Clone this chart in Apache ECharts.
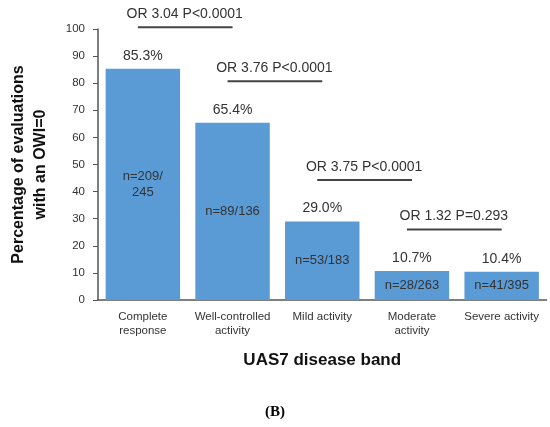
<!DOCTYPE html>
<html>
<head>
<meta charset="utf-8">
<script src="https://cdn.jsdelivr.net/npm/echarts@6/dist/echarts.min.js"></script>
<style>
  html, body { margin: 0; padding: 0; background: #fff; }
  #chart { width: 550px; height: 427px; }
</style>
</head>
<body>
<div id="chart"></div>
<script>
// UAS7 disease bands and the share of evaluations with OWI=0
var categories = ['Complete\nresponse', 'Well-controlled\nactivity', 'Mild activity', 'Moderate\nactivity', 'Severe activity'];
var percents = [85.3, 65.4, 29.0, 10.7, 10.4];
var counts = ['n=209/\n245', 'n=89/136', 'n=53/183', 'n=28/263', 'n=41/395'];
// comparisons between neighbouring bands
var comparisons = ['OR 3.04 P<0.0001', 'OR 3.76 P<0.0001', 'OR 3.75 P<0.0001', 'OR 1.32 P=0.293'];
var yTicks = [0, 10, 20, 30, 40, 50, 60, 70, 80, 90, 100];

var chart = echarts.init(document.getElementById('chart'));

var option = {
    animation: false,
    textStyle: { fontFamily: 'Liberation Sans, Arial, sans-serif' },
    title: {
        text: '(B)',
        left: 'center',
        bottom: 2,
        textStyle: { fontFamily: 'Liberation Serif, Times New Roman, serif', fontSize: 15, fontWeight: 'bold', color: '#000' }
    },
    grid: { left: 94, right: 3.5, top: 29, bottom: 127 },
    xAxis: {
        type: 'category',
        data: categories,
        name: 'UAS7 disease band',
        nameLocation: 'middle',
        nameGap: 52,
        nameTextStyle: { fontSize: 17, fontWeight: 'bold', color: '#111' },
        axisLine: { lineStyle: { color: '#555', width: 1.5 } },
        axisTick: { show: false },
        axisLabel: { interval: 0, color: '#333', fontSize: 11.5, lineHeight: 14, margin: 10 }
    },
    yAxis: {
        type: 'value',
        min: yTicks[0],
        max: yTicks[yTicks.length - 1],
        interval: 10,
        name: 'Percentage of evaluations\nwith an OWI=0',
        nameLocation: 'middle',
        nameGap: 46,
        nameTextStyle: { fontSize: 16, fontWeight: 'bold', color: '#111', lineHeight: 22 },
        axisLine: { show: true, lineStyle: { color: '#555', width: 1.5 } },
        axisTick: { show: true, length: 5, lineStyle: { color: '#555' } },
        axisLabel: { color: '#333', fontSize: 11.5, margin: 13 },
        splitLine: { show: false }
    },
    series: [
        {
            type: 'bar',
            data: percents,
            barCategoryGap: '17%',
            itemStyle: { color: '#5b9bd5' },
            label: {
                show: true,
                position: 'top',
                distance: 6,
                fontSize: 14,
                color: '#333',
                formatter: function (p) { return p.value.toFixed(1) + '%'; }
            },
            z: 2
        },
        {
            type: 'bar',
            data: percents,
            barGap: '-100%',
            barCategoryGap: '17%',
            itemStyle: { color: 'rgba(0,0,0,0)' },
            label: {
                show: true,
                position: 'inside',
                fontSize: 13,
                lineHeight: 16,
                color: '#333',
                formatter: function (p) { return counts[p.dataIndex]; }
            },
            silent: true,
            z: 3
        }
    ]
};

chart.setOption(option);

// brackets between neighbouring bars, placed through the chart's own scales
var graphics = [];
comparisons.forEach(function (txt, i) {
    var lvl = Math.max(percents[i], percents[i + 1]) + 15.3;
    var a = chart.convertToPixel({ gridIndex: 0 }, [i, lvl]);
    var b = chart.convertToPixel({ gridIndex: 0 }, [i + 1, lvl]);
    graphics.push({
        type: 'line',
        silent: true,
        shape: { x1: a[0] - 5, y1: a[1], x2: b[0], y2: b[1] },
        style: { stroke: '#444', lineWidth: 2 }
    });
    graphics.push({
        type: 'text',
        silent: true,
        x: (a[0] + b[0]) / 2 - 3,
        y: a[1] - 6,
        style: {
            text: txt,
            fill: '#333',
            font: '14px Liberation Sans, Arial, sans-serif',
            textAlign: 'center',
            textVerticalAlign: 'bottom'
        }
    });
});
chart.setOption({ graphic: graphics });
</script>
</body>
</html>
